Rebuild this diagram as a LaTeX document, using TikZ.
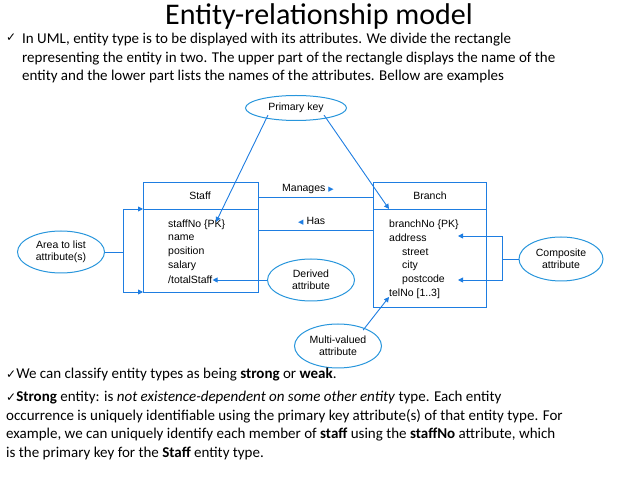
\documentclass[tikz,border=0pt]{standalone}
\usepackage{fontspec}
\setmainfont{Carlito}
\newfontfamily\dgm{Liberation Sans}
\newfontfamily\djv{DejaVu Sans}
\usetikzlibrary{shapes.geometric,arrows.meta}
\definecolor{ln}{RGB}{30,125,225}
\definecolor{el}{RGB}{40,150,220}
\tikzset{
 bx/.style={draw=ln,line width=0.9pt},
 lk/.style={ln,line width=0.9pt},
 ar/.style={lk,-{Triangle[length=5pt,width=5pt]}},
 oval/.style={ellipse,draw=el,line width=1pt,fill=white,inner sep=0pt,font=\dgm\fontsize{10.5}{12}\selectfont,align=center},
 attr/.style={anchor=west,inner sep=0pt,font=\dgm\fontsize{10.5}{12}\selectfont},
 body/.style={anchor=north west,inner sep=0pt,align=left,font=\fontsize{15}{18.6}\selectfont}
}
\def\ck{{\djv\fontsize{12}{12}\selectfont ✓}}
\def\trr{{\djv\fontsize{7}{8}\selectfont\color{ln}▶}}
\def\trl{{\djv\fontsize{7}{8}\selectfont\color{ln}◀}}
\begin{document}
\begin{tikzpicture}[x=1pt,y=-1pt]
\useasboundingbox (0,0) rectangle (638,478);
\node (title) at (319,17) {\fontsize{30}{32}\selectfont Entity-relationship model};
\node[body] (ck1) at (6,34) {\ck};
\node[body] (b1) at (22,33) {In UML, entity type is to be displayed with its attributes. We divide the rectangle\\representing the entity in two. The upper part of the rectangle displays the name of the\\entity and the lower part lists the names of the attributes. Bellow are examples};
% boxes
\draw[bx] (143,182) rectangle (258,292);
\draw[bx] (143,209) -- (258,209);
\draw[bx] (373,182) rectangle (486,307);
\draw[bx] (373,209) -- (486,209);
\node (staff) at (200,196) {\dgm\fontsize{10.5}{12}\selectfont Staff};
\node (branch) at (430,196) {\dgm\fontsize{10.5}{12}\selectfont Branch};
\coordinate (sa) at (258,197); \coordinate (ba) at (373,197);
\coordinate (sb) at (258,230); \coordinate (bb) at (373,230);
\draw[lk] (sa) -- (ba);
\draw[lk] (sb) -- (bb);
\node[attr] (man) at (282,189) {Manages \trr};
\node[attr] (has) at (298,221) {\trl\ Has};
\node[attr] (s1) at (168,225) {staffNo \{PK\}};
\node[attr] (s2) at (168,238) {name};
\node[attr] (s3) at (168,252) {position};
\node[attr] (s4) at (168,266) {salary};
\node[attr] (s5) at (168,280) {/totalStaff};
\node[attr] (t1) at (389,225) {branchNo \{PK\}};
\node[attr] (t2) at (389,238) {address};
\node[attr] (t3) at (402,252) {street};
\node[attr] (t4) at (402,266) {city};
\node[attr] (t5) at (402,280) {postcode};
\node[attr] (t6) at (389,294) {telNo [1..3]};
% ovals
\node[oval,minimum width=101,minimum height=25] (pk) at (296,108) {Primary key};
\node[oval,minimum width=87,minimum height=42] (area) at (61,252) {Area to list\\attribute(s)};
\node[oval,minimum width=87,minimum height=42] (der) at (311,280) {Derived\\attribute};
\node[oval,minimum width=84,minimum height=44] (comp) at (561,259) {Composite\\attribute};
\node[oval,minimum width=87,minimum height=44] (mv) at (338,346) {Multi-valued\\attribute};
% connectors
\coordinate (pkA) at (216,222); \coordinate (pkB) at (389,209);
\draw[ar] (pk.south west) ++(8,-2) -- (pkA);
\draw[ar] (pk.south east) ++(-8,-2) -- (pkB);
\coordinate (aj) at (123,252);
\coordinate (ta) at (143,209); \coordinate (tb) at (143,292);
\draw[lk] (area.east) -- (aj);
\draw[ar] (aj) |- (ta);
\draw[ar] (aj) |- (tb);
\draw[ar] (der.west) -- (s5.east);
\coordinate (cj) at (502,259);
\coordinate (ca) at (458,236); \coordinate (cb) at (458,280);
\draw[lk] (comp.west) -- (cj);
\draw[ar] (cj) |- (ca);
\draw[ar] (cj) |- (cb);
\coordinate (mt) at (389,297);
\draw[ar] (mv.north east) ++(-6,0) -- (mt);
% bottom text
\node[body] (b2) at (6,368) {\ck We can classify entity types as being \textbf{strong} or \textbf{weak}.};
\node[body] (b3) at (6,391) {\ck\textbf{Strong} entity: is \textit{not existence-dependent on some other entity} type. Each entity\\occurrence is uniquely identifiable using the primary key attribute(s) of that entity type. For\\example, we can uniquely identify each member of \textbf{staff} using the \textbf{staffNo} attribute, which\\is the primary key for the \textbf{Staff} entity type.};
\end{tikzpicture}
\end{document}
